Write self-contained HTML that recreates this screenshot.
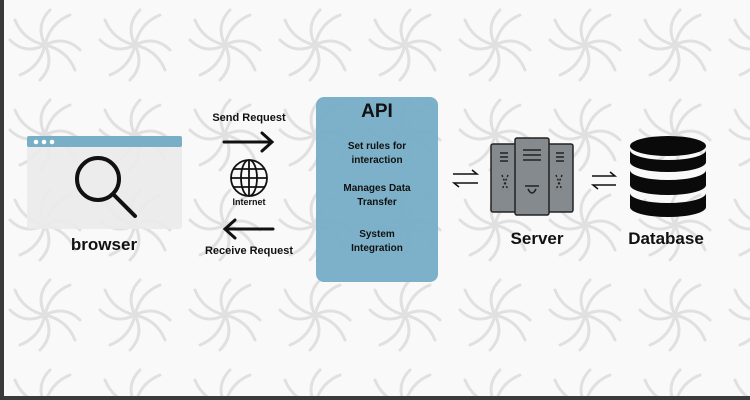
<!DOCTYPE html>
<html><head><style>
body{margin:0;width:750px;height:400px;overflow:hidden;font-family:"Liberation Sans",sans-serif;}
.t{position:absolute;font-weight:bold;color:#111;text-align:center;white-space:nowrap;}
</style></head><body>
<div style="position:relative;width:750px;height:400px;background:#f9f9f9;">
<svg width="750" height="400" style="position:absolute;left:0;top:0">
<defs>
<pattern id="p" width="90" height="90" patternUnits="userSpaceOnUse">
<g fill="none" stroke="#e0e0e0" stroke-width="3" stroke-linecap="round">
<path d="M45 45 q-10 -20 5 -35"/><path d="M45 45 q20 -10 35 5"/><path d="M45 45 q10 20 -5 35"/><path d="M45 45 q-20 10 -35 -5"/>
<path d="M45 45 q-22 -5 -30 -25"/><path d="M45 45 q5 -22 25 -30"/><path d="M45 45 q22 5 30 25"/><path d="M45 45 q-5 22 -25 30"/>
</g></pattern></defs>
<rect width="750" height="400" fill="url(#p)"/>
<rect x="0" y="0" width="4" height="400" fill="#3a3a3a"/>
<rect x="0" y="396" width="750" height="4" fill="#3a3a3a"/>
<rect x="27" y="136" width="155" height="93" rx="3" fill="#eaeaea" opacity="0.92"/>
<rect x="27" y="136" width="155" height="11" rx="2" fill="#78aec6"/>
<circle cx="36" cy="142" r="2.3" fill="#fff"/><circle cx="44" cy="142" r="2.3" fill="#fff"/><circle cx="52" cy="142" r="2.3" fill="#fff"/>
<circle cx="98" cy="179" r="21" fill="none" stroke="#111" stroke-width="4"/>
<line x1="113" y1="194" x2="135" y2="216" stroke="#111" stroke-width="4" stroke-linecap="round"/>
<g stroke="#111" stroke-width="3" fill="none" stroke-linecap="round">
<line x1="224" y1="142" x2="271" y2="142"/><path d="M262 133 l10 9 l-10 9"/>
<line x1="226" y1="229" x2="273" y2="229"/><path d="M235 220 l-10 9 l10 9"/>
</g>
<g stroke="#111" stroke-width="1.8" fill="none">
<circle cx="249" cy="178" r="18"/><ellipse cx="249" cy="178" rx="8" ry="18"/>
<line x1="249" y1="160" x2="249" y2="196"/><line x1="231" y1="178" x2="267" y2="178"/>
<line x1="234" y1="169" x2="264" y2="169"/><line x1="234" y1="187" x2="264" y2="187"/>
</g>
<rect x="316" y="97" width="122" height="185" rx="8" fill="#75adc6" opacity="0.95"/>
<g stroke="#111" stroke-width="1.5" fill="none">
<path d="M453 174 h24 l-5 -4"/><path d="M478 183 h-24 l5 4"/>
<path d="M592 176 h23 l-5 -4"/><path d="M616 185 h-23 l5 4"/>
</g>
<g stroke="#222" stroke-width="1.5" fill="#858a8e">
<rect x="491" y="144" width="30" height="68" rx="2"/>
<rect x="543" y="144" width="30" height="68" rx="2"/>
<rect x="515" y="138" width="34" height="77" rx="2"/>
</g>
<g stroke="#222" stroke-width="1.5">
<line x1="500" y1="153" x2="508" y2="153"/><line x1="500" y1="157" x2="508" y2="157"/><line x1="500" y1="161" x2="508" y2="161"/>
<line x1="556" y1="153" x2="564" y2="153"/><line x1="556" y1="157" x2="564" y2="157"/><line x1="556" y1="161" x2="564" y2="161"/>
<line x1="523" y1="150" x2="541" y2="150"/><line x1="523" y1="155" x2="541" y2="155"/><line x1="523" y1="160" x2="541" y2="160"/>
<line x1="525" y1="186" x2="539" y2="186"/><path d="M528 189 q4 8 8 0" fill="none"/>
<line x1="502" y1="175" x2="508" y2="190" stroke-dasharray="2 2"/><line x1="508" y1="175" x2="502" y2="190" stroke-dasharray="2 2"/>
<line x1="556" y1="175" x2="562" y2="190" stroke-dasharray="2 2"/><line x1="562" y1="175" x2="556" y2="190" stroke-dasharray="2 2"/>
</g>
<g fill="#0a0a0a">
<ellipse cx="668" cy="146" rx="38" ry="10"/>
<path d="M630 150 v12 a38 10 0 0 0 76 0 v-12 a38 10 0 0 1 -76 0z"/>
<path d="M630 170 v15 a38 10 0 0 0 76 0 v-15 a38 10 0 0 1 -76 0z"/>
<path d="M630 193 v14 a38 10 0 0 0 76 0 v-14 a38 10 0 0 1 -76 0z"/>
</g>
</svg>
<div class="t" style="left:199px;top:112px;width:100px;font-size:11px">Send Request</div>
<div class="t" style="left:219px;top:197px;width:60px;font-size:9px">Internet</div>
<div class="t" style="left:194px;top:245px;width:110px;font-size:11px">Receive Request</div>
<div class="t" style="left:44px;top:235px;width:120px;font-size:17px">browser</div>
<div class="t" style="left:316px;top:101px;width:122px;font-size:19px">API</div>
<div class="t" style="left:316px;top:140px;width:122px;font-size:10px;line-height:14px">Set rules for<br>interaction</div>
<div class="t" style="left:316px;top:182px;width:122px;font-size:10px;line-height:14px">Manages Data<br>Transfer</div>
<div class="t" style="left:316px;top:228px;width:122px;font-size:10px;line-height:14px">System<br>Integration</div>
<div class="t" style="left:487px;top:229px;width:100px;font-size:17px">Server</div>
<div class="t" style="left:611px;top:229px;width:110px;font-size:17px">Database</div>
</div>
</body></html>
